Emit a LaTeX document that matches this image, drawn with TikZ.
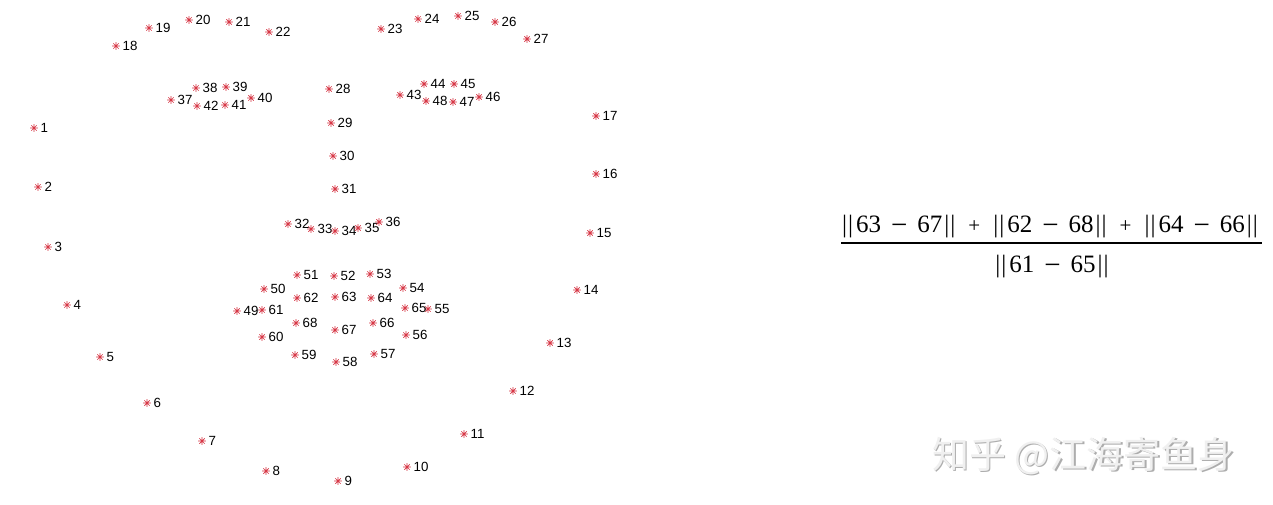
\documentclass[tikz,border=0pt]{standalone}
\usepackage{fontspec}
\setmainfont{Liberation Sans}
\newfontfamily\eqfont{Liberation Serif}
\newfontfamily\cjkfont{Noto Sans CJK SC}
\definecolor{mk}{RGB}{215,55,70}
\tikzset{
  mkstar/.pic={\draw[mk,line width=0.7pt]
     (-3.8pt,0) -- (3.8pt,0) (0,-3.8pt) -- (0,3.8pt)
     (-2.7pt,-2.7pt) -- (2.7pt,2.7pt) (-2.7pt,2.7pt) -- (2.7pt,-2.7pt);},
  lbl/.style={anchor=base west,inner sep=0pt,font=\fontsize{13.3}{15}\selectfont},
  eq/.style={anchor=base,inner sep=0pt,font=\eqfont\fontsize{25}{30}\selectfont},
  wm/.style={anchor=base west,inner sep=0pt,font=\cjkfont\fontsize{37}{40}\selectfont}
}
\newcommand{\pl}{\hspace{13pt}{\fontsize{21}{24}\selectfont+}\hspace{13pt}}
\newcommand{\mi}{\hspace{10pt}\raisebox{-2.5pt}{\fontsize{29}{30}\selectfont −}\hspace{10pt}}
\newcommand{\lb}{|\kern1pt|\kern3pt}
\newcommand{\rb}{\kern2pt|\kern1pt|}
\begin{document}
\begin{tikzpicture}[x=1pt,y=-1pt]
\useasboundingbox[fill=white] (0,0) rectangle (1273,505);
\foreach \n/\x/\y in {
 1/34/128, 2/38/187, 3/48/247, 4/67/305, 5/100/357, 6/147/403, 7/202/441,
 8/266/471, 9/338/481, 10/407/467, 11/464/434, 12/513/391, 13/550/343,
 14/577/290, 15/590/233, 16/596/174, 17/596/116,
 18/116/46, 19/149/28, 20/189/20, 21/229/22, 22/269/32,
 23/381/29, 24/418/19, 25/458/16, 26/495/22, 27/527/39,
 28/329/89, 29/331/123, 30/333/156, 31/335/189,
 32/288/224, 33/311/229, 34/335/231, 35/358/228, 36/379/222,
 37/171/100, 38/196/88, 39/226/87, 40/251/98, 41/225/105, 42/197/106,
 43/400/95, 44/424/84, 45/454/84, 46/479/97, 47/453/102, 48/426/101,
 49/237/311, 50/264/289, 51/297/275, 52/334/276, 53/370/274, 54/403/288,
 55/428/309, 56/406/335, 57/374/354, 58/336/362, 59/295/355, 60/262/337,
 61/262/310, 62/297/298, 63/335/297, 64/371/298, 65/405/308, 66/373/323,
 67/335/330, 68/296/323}{
  \coordinate (p\n) at (\x,\y);
  \pic at (p\n) {mkstar};
  \node[lbl] (l\n) at ([xshift=6.5pt,yshift=-4.8pt]p\n) {\n};
}
% formula
\node[eq] (num) at (1050,232) {\lb63\mi67\rb\pl\lb62\mi68\rb\pl\lb64\mi66\rb};
\node[eq] (den) at (1052,272) {\lb61\mi65\rb};
\coordinate (barL) at (841,243);
\coordinate (barR) at (1262,243);
\draw[line width=1.6pt] (barL) -- (barR);
% watermark
\node[wm,text=black!32] (wms) at (933.5,469.5) {知乎 @江海寄鱼身};
\node[wm,text=black!6] (wmt) at (932,468) {知乎 @江海寄鱼身};
\end{tikzpicture}
\end{document}
